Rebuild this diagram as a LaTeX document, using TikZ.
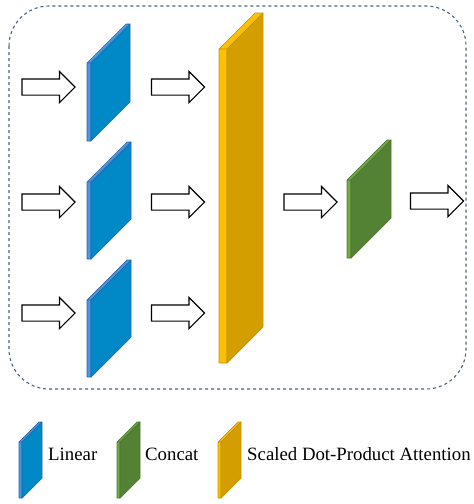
\documentclass[tikz,border=0pt]{standalone}
\usepackage{fontspec}
\setmainfont{Liberation Serif}
\usepackage{xcolor}
\definecolor{linface}{RGB}{0,137,198}
\definecolor{linside}{RGB}{70,155,225}
\definecolor{linedge}{RGB}{46,100,172}
\definecolor{catface}{RGB}{84,130,53}
\definecolor{catside}{RGB}{112,173,71}
\definecolor{catedge}{RGB}{78,118,50}
\definecolor{attface}{RGB}{210,158,0}
\definecolor{attside}{RGB}{255,192,0}
\definecolor{attedge}{RGB}{196,148,0}
\definecolor{boxblue}{RGB}{72,98,130}
\usepackage{tikz}
\usetikzlibrary{shapes.arrows}
% #1 name, #2 x, #3 y of front top-left, #4 skew, #5 height, #6 thickness, #7 colour prefix
\newcommand{\panel}[7]{
    \draw[#7edge, fill=#7side, line width=0.7pt, line join=round]
        (#2-#6,#3) -- (#2,#3) -- (#2,#3+#5) -- (#2-#6,#3+#5) -- cycle
        (#2-#6,#3) -- (#2-#6+#4,#3-#4) -- (#2+#4,#3-#4) -- (#2,#3) -- cycle;
    \draw[#7edge, fill=#7face, line width=0.7pt, line join=round]
        (#2,#3) -- (#2+#4,#3-#4) -- (#2+#4,#3-#4+#5) -- (#2,#3+#5) -- cycle;
    \coordinate (#1) at (#2+#4/2,#3+#5/2-#4/2);
}
\tikzset{
    blockarrow/.style={draw, single arrow, fill=white, line width=1.1pt, inner xsep=0pt, inner ysep=7.5pt,
        single arrow head extend=7.5pt, single arrow tip angle=90, minimum height=53pt},
    legendtext/.style={anchor=base west, inner sep=0pt, font=\fontsize{18.8}{22}\selectfont},
    groupbox/.style={draw=boxblue, dashed, line width=1.1pt, rounded corners=40pt}
}
\begin{document}
\begin{tikzpicture}[x=1pt,y=-1pt]
    \useasboundingbox (0,0) rectangle (474,504);
    \draw[groupbox] (9,6) rectangle (466,389);

    \panel{lin1}{91}{63}{39}{78}{4}{lin}
    \panel{lin2}{91}{182}{40}{77}{4}{lin}
    \panel{lin3}{91}{300}{40}{77}{4}{lin}
    \panel{att}{227}{49}{36}{314}{8}{att}
    \panel{cat}{351}{180}{40}{78}{4}{cat}

    \path
        node[blockarrow] (in1) at (44.5,87) {}
        node[blockarrow] (in2) at (44.5,202) {}
        node[blockarrow] (in3) at (44.5,313) {}
        node[blockarrow] (mid1) at (174,87) {}
        node[blockarrow] (mid2) at (174,202) {}
        node[blockarrow] (mid3) at (174,313) {}
        node[blockarrow] (toconcat) at (306.5,202) {}
        node[blockarrow] (out) at (433,201) {};

    \panel{keylin}{22}{442}{20}{56}{3}{lin}
    \panel{keycat}{120}{442}{20}{56}{3}{cat}
    \panel{keyatt}{221}{442}{20}{56}{3}{att}
    \node[legendtext] (lbllin) at (48,460) {Linear};
    \node[legendtext] (lblcat) at (145,460) {Concat};
    \node[legendtext] (lblatt) at (247,460) {Scaled Dot-Product Attention};
\end{tikzpicture}
\end{document}
